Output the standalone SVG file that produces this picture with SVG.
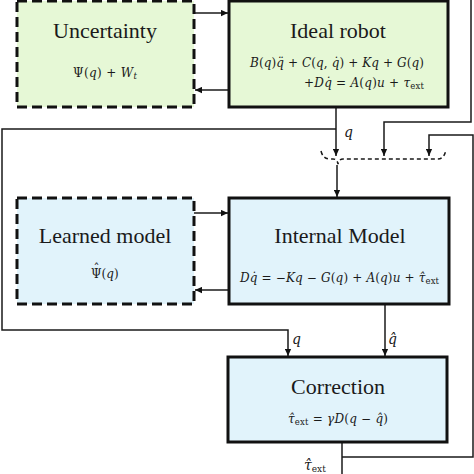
<svg xmlns="http://www.w3.org/2000/svg" width="474" height="474" viewBox="0 0 474 474">
<defs>
<marker id="ah" viewBox="0 0 10 10" refX="10" refY="5" markerWidth="7" markerHeight="7" markerUnits="userSpaceOnUse" orient="auto">
<path d="M0,0.5 L10,5 L0,9.5 Z" fill="#111"/>
</marker>
<style>
.box{stroke:#111;stroke-width:3}
.dash{stroke-dasharray:10 5}
.green{fill:#e6f8d6}
.blue{fill:#e1f3fb}
.title{font-family:"Liberation Serif","DejaVu Serif",serif;font-size:22px;fill:#1a1a1a;text-anchor:middle}
.math{font-family:"DejaVu Serif",serif;font-size:12px;font-style:italic;fill:#1a1a1a}
.lbl{font-family:"DejaVu Serif",serif;font-size:14px;font-style:italic;fill:#1a1a1a}
.c{fill:none;stroke:#1a1a1a;stroke-width:1.5}
.up{font-style:normal}
</style>
</defs>
<g id="connectors">
<path class="c" d="M194,13 H228" marker-end="url(#ah)"/>
<path class="c" d="M229,90 H195" marker-end="url(#ah)"/>
<path class="c" d="M336,107 V156" marker-end="url(#ah)"/>
<path class="c" d="M336,129 H2 V330 H288 V356" marker-end="url(#ah)"/>
<path class="c" d="M337,165 V197" marker-end="url(#ah)"/>
<path class="c" d="M471,0 V122 H384 V156" marker-end="url(#ah)"/>
<path class="c" d="M342,457 H473 V135 H429 V156" marker-end="url(#ah)"/>
<path class="c" d="M194,213 H228" marker-end="url(#ah)"/>
<path class="c" d="M229,290 H195" marker-end="url(#ah)"/>
<path class="c" d="M385,304 V356" marker-end="url(#ah)"/>
<path class="c" d="M342,442 V474"/>
<path class="c" d="M321,151 Q323,159 330,159 L333,159 Q337,159 338,164 Q339,159 343,159 L438,159 Q444,159 446,150" stroke-dasharray="4 3"/>
<text class="lbl" x="344" y="137">q</text>
<text class="lbl" x="292" y="344">q</text>
<text class="lbl" x="388" y="344">q&#x0302;</text>
<text class="lbl" x="304" y="470" font-size="13">τ&#x0302;<tspan font-size="9" dy="2" class="up">ext</tspan></text>
</g>
<g id="uncertainty">
<rect class="box dash green" x="17" y="1" width="177" height="106"/>
<text class="title" x="105" y="38">Uncertainty</text>
<text class="math" x="73" y="77" textLength="64"><tspan class="up">Ψ(</tspan>q<tspan class="up">) + </tspan>W<tspan font-size="8.5" dy="2">t</tspan></text>
</g>
<g id="ideal-robot">
<rect class="box green" x="229" y="1" width="219" height="106"/>
<text class="title" x="338" y="38">Ideal robot</text>
<text class="math" x="250" y="67" textLength="174">B<tspan class="up">(</tspan>q<tspan class="up">)</tspan>q&#x0308; <tspan class="up">+</tspan> C<tspan class="up">(</tspan>q<tspan class="up">, </tspan>q&#x0307;<tspan class="up">) + </tspan>Kq <tspan class="up">+</tspan> G<tspan class="up">(</tspan>q<tspan class="up">)</tspan></text>
<text class="math" x="304" y="87" textLength="120"><tspan class="up">+</tspan>Dq&#x0307; <tspan class="up">=</tspan> A<tspan class="up">(</tspan>q<tspan class="up">)</tspan>u <tspan class="up">+</tspan> τ<tspan font-size="8.5" dy="2" class="up">ext</tspan></text>
</g>
<g id="learned-model">
<rect class="box dash blue" x="17" y="198" width="177" height="106"/>
<text class="title" x="105" y="243">Learned model</text>
<text class="math" x="91" y="278"><tspan class="up">Ψ</tspan><tspan class="up" dx="-8" dy="-5">ˆ</tspan><tspan class="up" dx="2" dy="5">(</tspan>q<tspan class="up">)</tspan></text>
</g>
<g id="internal-model">
<rect class="box blue" x="229" y="198" width="220" height="106"/>
<text class="title" x="340" y="243">Internal Model</text>
<text class="math" x="240" y="282" textLength="199">Dq&#x0307; <tspan class="up">= −</tspan>Kq <tspan class="up">−</tspan> G<tspan class="up">(</tspan>q<tspan class="up">) + </tspan>A<tspan class="up">(</tspan>q<tspan class="up">)</tspan>u <tspan class="up">+</tspan> τ&#x0302;<tspan font-size="8.5" dy="2" class="up">ext</tspan></text>
</g>
<g id="correction">
<rect class="box blue" x="228" y="357" width="219" height="85"/>
<text class="title" x="338" y="394">Correction</text>
<text class="math" x="288" y="423" textLength="100">τ&#x0302;<tspan font-size="8.5" dy="2" class="up">ext</tspan><tspan dy="-2" class="up"> = </tspan>γD<tspan class="up">(</tspan>q <tspan class="up">−</tspan> q&#x0302;<tspan class="up">)</tspan></text>
</g>
</svg>
